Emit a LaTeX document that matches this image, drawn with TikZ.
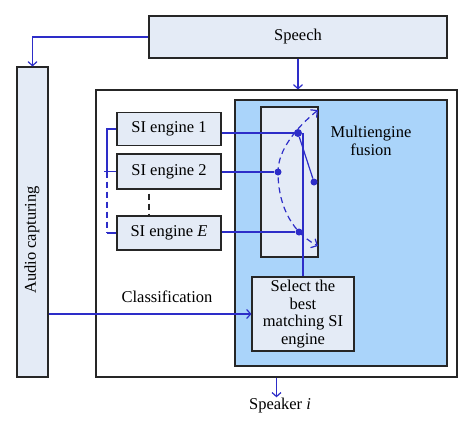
\documentclass[tikz,border=0pt]{standalone}
\usepackage{fontspec}
\setmainfont{Liberation Serif}
\usetikzlibrary{arrows.meta}
\definecolor{lbox}{RGB}{228,235,246}
\definecolor{bluearea}{RGB}{170,212,250}
\definecolor{lineblue}{RGB}{45,45,200}
\tikzset{
  box/.style={draw=black!85, line width=1.1pt, fill=lbox, inner sep=0pt, align=center},
  frame/.style={draw=black!85, line width=1.1pt, inner sep=0pt},
  wire/.style={draw=lineblue, line width=1.2pt},
  tip/.style={-{Straight Barb[length=4pt,width=9pt]}},
  dot/.style={circle, fill=lineblue, inner sep=0pt, minimum size=7pt},
  lbl/.style={inner sep=1pt, align=center}
}
\begin{document}
\begin{tikzpicture}[x=1pt,y=-1pt, font=\fontsize{16.5}{17.5}\selectfont]
\useasboundingbox (0,0) rectangle (474,431);
% containers
\node[frame, fill=white, minimum width=361pt, minimum height=287pt] (outer) at (276.5,233.5) {};
\node[frame, fill=bluearea, minimum width=212pt, minimum height=266pt] (blue) at (341,233) {};
\node[box, minimum width=57pt, minimum height=150pt] (fus) at (289.5,182) {};
% boxes
\node[box, minimum width=298pt, minimum height=42pt] (speech) at (298,37) {Speech};
\node[box, minimum width=31pt, minimum height=310pt] (audio) at (32.5,222) {};
\node[lbl, rotate=90] (audiotxt) at (32,240) {Audio capturing};
\node[box, minimum width=104pt, minimum height=33pt] (e1) at (169,129) {SI engine 1};
\node[box, minimum width=104pt, minimum height=35pt] (e2) at (169,171.5) {SI engine 2};
\node[box, minimum width=104pt, minimum height=34pt] (eE) at (169,233) {SI engine \textit{E}};
\node[box, minimum width=102pt, minimum height=74pt] (sel) at (303,314) {Select the\\best\\matching SI\\engine};
% texts
\node[lbl] (mef) at (371,141) {Multiengine\\fusion};
\node[lbl] (cls) at (167,297) {Classification};
\node[lbl] (spk) at (280,406) {Speaker \textit{i}};
% dots
\node[dot, minimum size=8pt] (d1) at (298,133) {};
\node[dot] (d2) at (278,172) {};
\node[dot] (dE) at (299,232) {};
\node[dot] (d3) at (314,182) {};
\coordinate (ctop) at (318,110);
\coordinate (cbot) at (318,246);
\coordinate (bx) at (107,0);
% connectors
\draw[wire, tip] (speech.west) -| (audio.north);
\draw[wire, tip] (speech.south) -- (speech.south |- outer.north);
\draw[wire] (e1.east |- d1) -- (d1);
\draw[wire] (e2.east |- d2) -- (d2);
\draw[wire] (eE.east |- dE) -- (dE);
\draw[wire] (d1) -- (d3);
\draw[wire] (sel.north |- d1) -- (sel.north);
\draw[wire, dash pattern=on 6pt off 4pt, {Straight Barb[length=5pt,width=10pt]}-{Straight Barb[length=5pt,width=10pt]}]
  (ctop) .. controls (296,128) and (278,150) .. (d2.center)
  .. controls (278,200) and (288,230) .. (cbot);
\draw[wire] (e1.west) -- (e1.west -| bx) -- (e2.west -| bx);
\draw[wire, dash pattern=on 6pt off 4pt] (e2.west -| bx) -- (eE.west -| bx);
\draw[wire] (eE.west -| bx) -- (eE.west);
\draw[wire] ([xshift=-3pt]e2.west -| bx) -- (e2.west);
\draw[black!85, line width=1.1pt, dash pattern=on 6pt off 4pt] (e2.south) ++(-20,4) coordinate (dd1) -- (dd1 |- eE.north);
\draw[wire, tip] (audio.east |- sel.west) -- (sel.west);
\draw[wire, tip] (outer.south) -- (outer.south |- spk.north);
\end{tikzpicture}
\end{document}
